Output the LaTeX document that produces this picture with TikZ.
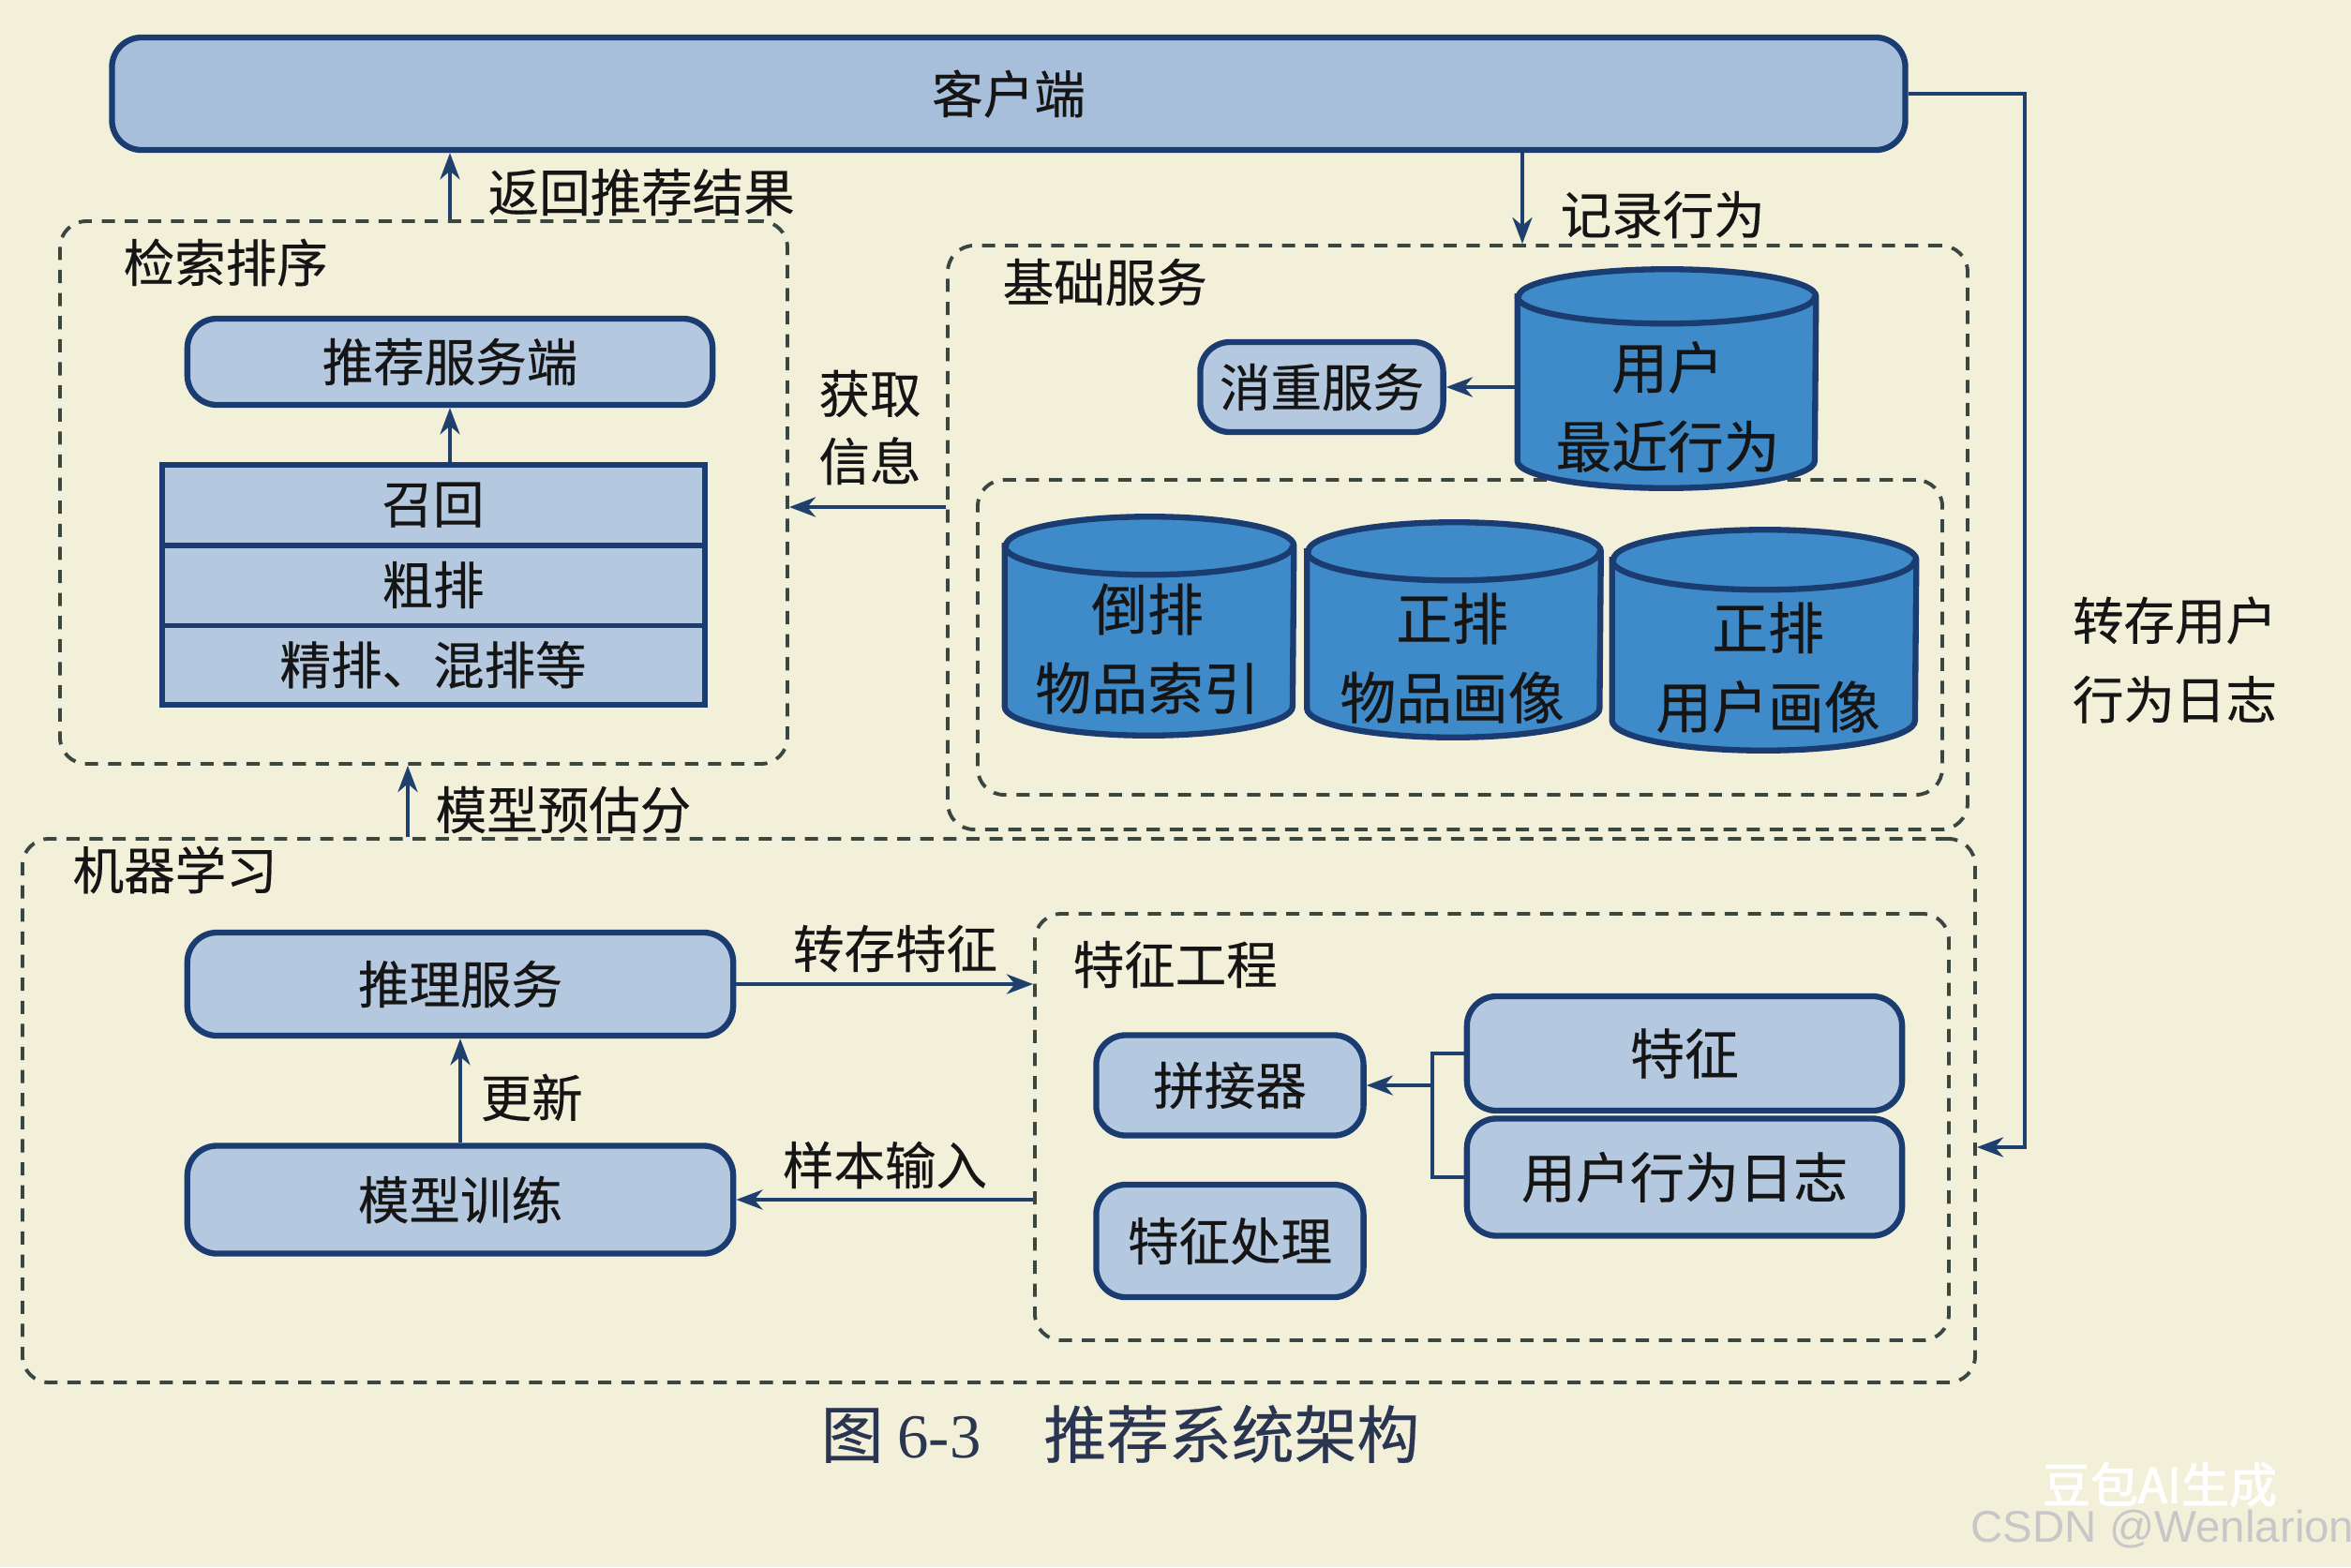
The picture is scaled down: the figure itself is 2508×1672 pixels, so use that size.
\documentclass[tikz,border=0pt]{standalone}
\usepackage{fontspec}
\setmainfont{Noto Sans CJK SC}[FakeBold=0.35]
\newfontfamily\digitfont{Liberation Serif}
\newfontfamily\wmlatin{Liberation Sans}
\newfontfamily\wmcjk{Noto Sans CJK SC}[FakeBold=2]
\usetikzlibrary{arrows.meta,positioning,calc,fit}
\definecolor{bg}{HTML}{F3F0DA}
\definecolor{bord}{HTML}{1B3C70}
\definecolor{boxfill}{HTML}{B4C8DF}
\definecolor{clientfill}{HTML}{A8BFDC}
\definecolor{cylfill}{HTML}{3F8BCA}
\definecolor{dashcol}{HTML}{3A4640}
\definecolor{conn}{HTML}{1F3F6E}
\definecolor{txt}{HTML}{151515}
\definecolor{capcol}{HTML}{2A3552}
\newcommand\cylshape[3]{%
  \path[draw=bord, line width=1.8pt, fill=cylfill]
    ([yshift=-#3]#1.north west) -- ([yshift=#3]#1.south west)
    arc[start angle=180, end angle=360, x radius=#2, y radius=#3]
    -- ([yshift=-#3]#1.north east)
    arc[start angle=0, end angle=180, x radius=#2, y radius=#3] -- cycle;
  \draw[draw=bord, line width=1.8pt] ([yshift=-#3]#1.north west)
    arc[start angle=180, end angle=360, x radius=#2, y radius=#3];}
\begin{document}
\begin{tikzpicture}[x=0.01cm,y=-0.01cm,
  font=\fontsize{15.5pt}{19pt}\selectfont,
  box/.style={draw=bord, line width=1.8pt, fill=boxfill, rounded corners=9pt, inner sep=0pt, text=txt},
  rowtext/.style={inner sep=0pt, text=txt, minimum width=5.79cm, minimum height=0.853cm},
  dbox/.style={draw=dashcol, line width=1.1pt, dash pattern=on 4pt off 3pt, rounded corners=8pt, inner sep=0pt},
  cylbox/.style={inner sep=0pt},
  arr/.style={draw=conn, line width=1.1pt, -{Stealth[length=8pt,width=6pt,inset=2.5pt]}},
  cline/.style={draw=conn, line width=1.1pt},
  sep/.style={draw=bord, line width=1.5pt},
  lab/.style={text=txt, inner sep=0pt},
  cyltext/.style={text=txt, inner sep=0pt, align=center, font=\fontsize{17pt}{24pt}\selectfont}
]
\fill[bg] (0,0) rectangle (2508,1672);
\useasboundingbox (0,0) rectangle (2508,1672);

% client
\node[box, fill=clientfill, minimum width=19.12cm, minimum height=1.2cm] (client) at (1076,100) {客户端};

% retrieval & ranking
\node[dbox, fit={(64,236) (840,815)}] (ret) {};
\node[lab, anchor=west] (retl) at (131,280) {检索排序};
\node[box, minimum width=5.6cm, minimum height=0.92cm] (rsrv) at (480,386) {推荐服务端};
\node[draw=bord, line width=1.8pt, fill=boxfill, inner sep=0pt, fit={(173,496) (752,752)}] (stack) {};
\node[rowtext] (recall) at (462,538.7) {召回};
\node[rowtext] (coarse) at (462,624) {粗排};
\node[rowtext] (finer) at (462,709.3) {精排、混排等};
\draw[sep] (recall.south -| stack.west) -- (recall.south -| stack.east);
\draw[sep] (coarse.south -| stack.west) -- (coarse.south -| stack.east);
\draw[arr] (stack.north -| rsrv.south) -- (rsrv.south);
\draw[arr] (ret.north -| rsrv.south) -- (client.south -| rsrv.south);
\node[lab, anchor=west] (retlab) at (520,205) {返回推荐结果};

% basic services
\node[dbox, fit={(1011,262) (2099,885)}] (base) {};
\node[lab, anchor=west] (basel) at (1069,301) {基础服务};
\node[dbox, fit={(1043,512) (2072,848)}] (inner) {};
\node[box, minimum width=2.59cm, minimum height=0.96cm] (dedup) at (1410,413) {消重服务};
\node[cylbox, minimum width=3.17cm, minimum height=2.32cm] (recent) at (1778,404) {};
\cylshape{recent}{1.585cm}{0.29cm}
\node[cyltext] (recentt) at (1779,434) {用户\\最近行为};
\draw[arr] (recent.west |- dedup) -- (dedup.east);

\node[cylbox, minimum width=3.07cm, minimum height=2.32cm] (cyla) at (1226,668) {};
\cylshape{cyla}{1.535cm}{0.31cm}
\node[cyltext] (cylat) at (1224,692) {倒排\\物品索引};
\node[cylbox, minimum width=3.12cm, minimum height=2.28cm] (cylb) at (1551,672) {};
\cylshape{cylb}{1.56cm}{0.31cm}
\node[cyltext] (cylbt) at (1549,702) {正排\\物品画像};
\node[cylbox, minimum width=3.23cm, minimum height=2.34cm] (cylc) at (1882,683) {};
\cylshape{cylc}{1.615cm}{0.32cm}
\node[cyltext] (cylct) at (1886,712) {正排\\用户画像};

\coordinate (gy) at (0,541);
\draw[arr] (base.west |- gy) -- (ret.east |- gy);
\node[lab, align=center, font=\fontsize{15.5pt}{20.5pt}\selectfont] (getinfo) at (928,456) {获取\\信息};

\coordinate (rx) at (1624,0);
\draw[arr] (client.south -| rx) -- (base.north -| rx);
\node[lab, anchor=west] (reclab) at (1664,229) {记录行为};

% machine learning
\node[dbox, fit={(24,895) (2107,1475)}] (ml) {};
\node[lab, anchor=west] (mll) at (77,928) {机器学习};
\coordinate (mx) at (435,0);
\draw[arr] (ml.north -| mx) -- (ret.south -| mx);
\node[lab, anchor=west] (scorelab) at (464,864) {模型预估分};

\node[box, minimum width=5.82cm, minimum height=1.1cm] (infer) at (491,1050) {推理服务};
\node[box, minimum width=5.82cm, minimum height=1.15cm] (train) at (491,1280) {模型训练};
\draw[arr] (train.north) -- (infer.south);
\node[lab, anchor=west] (updlab) at (512,1171) {更新};

\node[dbox, fit={(1104,975) (2079,1430)}] (feat) {};
\node[lab, anchor=west] (featl) at (1144,1029) {特征工程};
\draw[arr] (infer.east) -- (feat.west |- infer.east);
\node[lab] (storelab) at (955,1012) {转存特征};
\draw[arr] (feat.west |- train.east) -- (train.east);
\node[lab] (samplab) at (944,1243) {样本输入};

\node[box, minimum width=2.85cm, minimum height=1.07cm] (concat) at (1312,1158) {拼接器};
\node[box, minimum width=2.85cm, minimum height=1.2cm] (fproc) at (1312,1324) {特征处理};
\node[box, minimum width=4.64cm, minimum height=1.22cm, font=\fontsize{16.5pt}{19pt}\selectfont] (featb) at (1797,1124) {特征};
\node[box, minimum width=4.64cm, minimum height=1.25cm, font=\fontsize{16.5pt}{19pt}\selectfont] (ulog) at (1797,1256) {用户行为日志};
\coordinate (bx) at (1528,0);
\draw[cline] (featb.west) -- (featb.west -| bx) |- (ulog.west);
\draw[arr] (bx |- concat.east) -- (concat.east);

% log dump line
\coordinate (lx) at (2160,0);
\coordinate (ly) at (0,1224);
\draw[arr] (client.east) -| (lx |- ly) -- (ml.east |- ly);
\node[lab, align=left, font=\fontsize{15.5pt}{24pt}\selectfont] (loglab) at (2320,704) {转存用户\\行为日志};

% caption
\node[lab, text=capcol, font=\fontsize{19pt}{22pt}\selectfont] (cap) at (1195,1530) {图 {\digitfont 6-3}\hspace{1.0em}推荐系统架构};

% watermark
\node[inner sep=0pt, text=white, font=\wmcjk\fontsize{14.5pt}{17pt}\selectfont] (wm1) at (2304,1584) {豆包AI生成};
\node[inner sep=0pt, text=black!22, font=\wmlatin\fontsize{13.5pt}{16pt}\selectfont] (wm2) at (2307,1632) {CSDN @Wenlarion};
\end{tikzpicture}
\end{document}
